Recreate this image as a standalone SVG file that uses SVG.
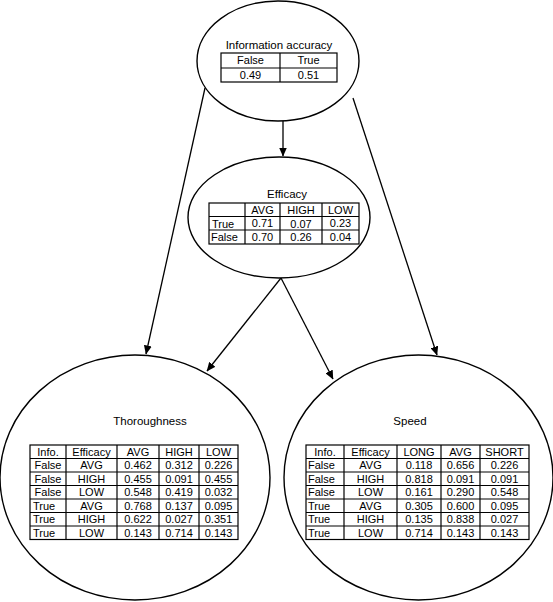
<svg xmlns="http://www.w3.org/2000/svg" width="553" height="602" viewBox="0 0 553 602">
<style>
.node{fill:#fff;stroke:#000;stroke-width:1.4}
.tb{fill:none;stroke:#000;stroke-width:1.2}
text{font-family:"Liberation Sans",Arial,sans-serif;font-size:11px;fill:#000}
.c{text-anchor:middle}
.t{font-size:11.5px;text-anchor:middle}
.edge{stroke:#000;stroke-width:1.3;fill:none;marker-end:url(#ah)}
</style>
<defs>
<marker id="ah" markerWidth="9" markerHeight="8" refX="8.5" refY="4" orient="auto" markerUnits="userSpaceOnUse">
<path d="M0,0 L9,4 L0,8 Z" fill="#000"/>
</marker>
</defs>
<rect width="553" height="602" fill="#fff"/>
<g id="connectors">
<line class="edge" x1="283" y1="121" x2="283" y2="156"/>
<line class="edge" x1="205" y1="88" x2="146" y2="354"/>
<line class="edge" x1="353" y1="98" x2="437" y2="355"/>
<line class="edge" x1="281" y1="278" x2="207" y2="371"/>
<line class="edge" x1="281" y1="278" x2="333" y2="379"/>
</g>
<g id="info">
<ellipse class="node" cx="278" cy="61" rx="81" ry="60"/>
<text class="t" x="279" y="49">Information accuracy</text>
<rect class="tb" x="221" y="53" width="116" height="29"/>
<line class="tb" x1="221" y1="68" x2="337" y2="68"/>
<line class="tb" x1="280" y1="53" x2="280" y2="82"/>
<text class="c" x="250.5" y="64">False</text>
<text class="c" x="308.5" y="64">True</text>
<text class="c" x="250.5" y="79">0.49</text>
<text class="c" x="308.5" y="79">0.51</text>
</g>
<g id="efficacy">
<ellipse class="node" cx="279" cy="217.5" rx="91" ry="60.5"/>
<text class="t" x="287" y="198">Efficacy</text>
<rect class="tb" x="209" y="203" width="150" height="41"/>
<line class="tb" x1="209" y1="216.5" x2="359" y2="216.5"/>
<line class="tb" x1="209" y1="230" x2="359" y2="230"/>
<line class="tb" x1="245" y1="203" x2="245" y2="244"/>
<line class="tb" x1="280" y1="203" x2="280" y2="244"/>
<line class="tb" x1="322" y1="203" x2="322" y2="244"/>
<text class="c" x="262.5" y="214">AVG</text>
<text class="c" x="301" y="214">HIGH</text>
<text class="c" x="340.5" y="214">LOW</text>
<text x="212" y="227.5">True</text>
<text class="c" x="262.5" y="227">0.71</text>
<text class="c" x="301" y="228">0.07</text>
<text class="c" x="340.5" y="227">0.23</text>
<text x="211" y="241">False</text>
<text class="c" x="262.5" y="240.5">0.70</text>
<text class="c" x="301" y="240.5">0.26</text>
<text class="c" x="340.5" y="240.5">0.04</text>
</g>
<g id="thoroughness">
<ellipse class="node" cx="135" cy="477.5" rx="135" ry="122.5"/>
<text class="t" x="150" y="425">Thoroughness</text>
<rect class="tb" x="30" y="445" width="208" height="94.5"/>
<line class="tb" x1="30" y1="458.5" x2="238" y2="458.5"/>
<line class="tb" x1="30" y1="472" x2="238" y2="472"/>
<line class="tb" x1="30" y1="485.5" x2="238" y2="485.5"/>
<line class="tb" x1="30" y1="499" x2="238" y2="499"/>
<line class="tb" x1="30" y1="512.5" x2="238" y2="512.5"/>
<line class="tb" x1="30" y1="526" x2="238" y2="526"/>
<line class="tb" x1="66" y1="445" x2="66" y2="539.5"/>
<line class="tb" x1="117" y1="445" x2="117" y2="539.5"/>
<line class="tb" x1="159" y1="445" x2="159" y2="539.5"/>
<line class="tb" x1="199" y1="445" x2="199" y2="539.5"/>
<text class="c" x="48" y="455.5">Info.</text>
<text class="c" x="91.5" y="455.5">Efficacy</text>
<text class="c" x="138" y="455.5">AVG</text>
<text class="c" x="179" y="455.5">HIGH</text>
<text class="c" x="218.5" y="455.5">LOW</text>
<text class="c" x="48" y="469">False</text><text class="c" x="91.5" y="469">AVG</text><text class="c" x="138" y="469">0.462</text><text class="c" x="179" y="469">0.312</text><text class="c" x="218.5" y="469">0.226</text>
<text class="c" x="48" y="482.5">False</text><text class="c" x="91.5" y="482.5">HIGH</text><text class="c" x="138" y="482.5">0.455</text><text class="c" x="179" y="482.5">0.091</text><text class="c" x="218.5" y="482.5">0.455</text>
<text class="c" x="48" y="496">False</text><text class="c" x="91.5" y="496">LOW</text><text class="c" x="138" y="496">0.548</text><text class="c" x="179" y="496">0.419</text><text class="c" x="218.5" y="496">0.032</text>
<text x="33" y="509.5">True</text><text class="c" x="91.5" y="509.5">AVG</text><text class="c" x="138" y="509.5">0.768</text><text class="c" x="179" y="509.5">0.137</text><text class="c" x="218.5" y="509.5">0.095</text>
<text x="33" y="523">True</text><text class="c" x="91.5" y="523">HIGH</text><text class="c" x="138" y="523">0.622</text><text class="c" x="179" y="523">0.027</text><text class="c" x="218.5" y="523">0.351</text>
<text x="33" y="536.5">True</text><text class="c" x="91.5" y="536.5">LOW</text><text class="c" x="138" y="536.5">0.143</text><text class="c" x="179" y="536.5">0.714</text><text class="c" x="218.5" y="536.5">0.143</text>
</g>
<g id="speed">
<ellipse class="node" cx="418.5" cy="477.5" rx="134.5" ry="122.5"/>
<text class="t" x="410" y="425">Speed</text>
<rect class="tb" x="306" y="445" width="223" height="94.5"/>
<line class="tb" x1="306" y1="458.5" x2="529" y2="458.5"/>
<line class="tb" x1="306" y1="472" x2="529" y2="472"/>
<line class="tb" x1="306" y1="485.5" x2="529" y2="485.5"/>
<line class="tb" x1="306" y1="499" x2="529" y2="499"/>
<line class="tb" x1="306" y1="512.5" x2="529" y2="512.5"/>
<line class="tb" x1="306" y1="526" x2="529" y2="526"/>
<line class="tb" x1="344" y1="445" x2="344" y2="539.5"/>
<line class="tb" x1="397" y1="445" x2="397" y2="539.5"/>
<line class="tb" x1="441" y1="445" x2="441" y2="539.5"/>
<line class="tb" x1="480" y1="445" x2="480" y2="539.5"/>
<text class="c" x="325" y="455.5">Info.</text>
<text class="c" x="370.5" y="455.5">Efficacy</text>
<text class="c" x="419" y="455.5">LONG</text>
<text class="c" x="460.5" y="455.5">AVG</text>
<text class="c" x="504.5" y="455.5">SHORT</text>
<text x="308" y="469">False</text><text class="c" x="370.5" y="469">AVG</text><text class="c" x="419" y="469">0.118</text><text class="c" x="460.5" y="469">0.656</text><text class="c" x="504.5" y="469">0.226</text>
<text x="308" y="482.5">False</text><text class="c" x="370.5" y="482.5">HIGH</text><text class="c" x="419" y="482.5">0.818</text><text class="c" x="460.5" y="482.5">0.091</text><text class="c" x="504.5" y="482.5">0.091</text>
<text x="308" y="496">False</text><text class="c" x="370.5" y="496">LOW</text><text class="c" x="419" y="496">0.161</text><text class="c" x="460.5" y="496">0.290</text><text class="c" x="504.5" y="496">0.548</text>
<text x="308" y="509.5">True</text><text class="c" x="370.5" y="509.5">AVG</text><text class="c" x="419" y="509.5">0.305</text><text class="c" x="460.5" y="509.5">0.600</text><text class="c" x="504.5" y="509.5">0.095</text>
<text x="308" y="523">True</text><text class="c" x="370.5" y="523">HIGH</text><text class="c" x="419" y="523">0.135</text><text class="c" x="460.5" y="523">0.838</text><text class="c" x="504.5" y="523">0.027</text>
<text x="308" y="536.5">True</text><text class="c" x="370.5" y="536.5">LOW</text><text class="c" x="419" y="536.5">0.714</text><text class="c" x="460.5" y="536.5">0.143</text><text class="c" x="504.5" y="536.5">0.143</text>
</g>
</svg>
